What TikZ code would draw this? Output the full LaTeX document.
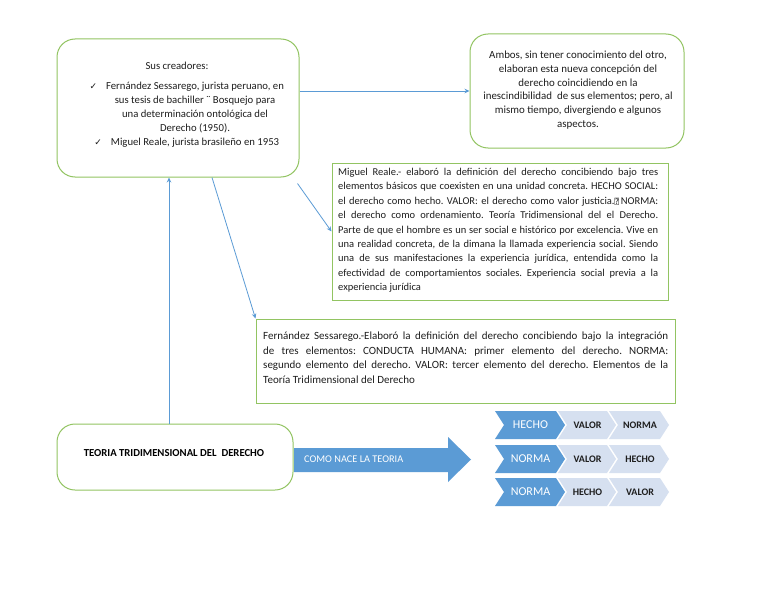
\documentclass[tikz,border=0pt]{standalone}
\usepackage{fontspec}
\setmainfont{Carlito}
\newfontfamily\symfont{DejaVu Sans}
\newfontfamily\symmono{DejaVu Sans Mono}
\usetikzlibrary{arrows.meta,calc}
\definecolor{boxgreen}{RGB}{146,196,98}
\definecolor{linkblue}{RGB}{91,155,213}
\definecolor{lightchev}{RGB}{214,224,240}
\definecolor{txt}{RGB}{30,30,30}
\newcommand{\chk}{\llap{{\symfont\fontsize{9}{9}\selectfont ✓}\hspace{9pt}}}
\frenchspacing
\begin{document}
\begin{tikzpicture}[x=1pt,y=-1pt,
  roundbox/.style={draw=boxgreen, line width=1pt, rounded corners=18pt, inner sep=0pt},
  sqbox/.style={draw=boxgreen, line width=1pt, inner sep=0pt},
  conn/.style={draw=linkblue, line width=0.8pt, -{Stealth[length=5pt,width=4.5pt]}},
  body/.style={font=\fontsize{10.7}{14}\selectfont, text=txt, inner sep=0pt},
  para/.style={text=txt, inner sep=0pt, align=justify, anchor=north west},
  darktxt/.style={font=\fontsize{12}{13}\selectfont, text=white, inner sep=0pt},
  lighttxt/.style={font=\bfseries\fontsize{10}{11}\selectfont, text=txt, inner sep=0pt}
]
\useasboundingbox[fill=white] (0,0) rectangle (768,594);

% boxes
\node[roundbox, minimum width=242pt, minimum height=138pt] (creadores) at (178,108) {};
\node[roundbox, minimum width=214pt, minimum height=114pt] (ambos) at (577,91) {};
\node[sqbox, minimum width=336pt, minimum height=137pt] (reale) at (500,231.5) {};
\node[sqbox, minimum width=419pt, minimum height=84pt] (sessarego) at (465.5,361) {};
\node[roundbox, minimum width=236pt, minimum height=66pt] (teoria) at (175,457) {};

% texts
\node[body] (t-sus) at (177,66) {Sus creadores:};
\node[body, align=center] (t-list) at (195,115) {\chk Fernández Sessarego, jurista peruano, en\\
sus tesis de bachiller ¨ Bosquejo para\\
una determinación ontológica del\\
Derecho (1950).\\
\chk Miguel Reale, jurista brasileño en 1953};

\node[body, align=center, font=\fontsize{10.9}{13.8}\selectfont] (t-ambos) at (578,90) {Ambos, sin tener conocimiento del otro,\\
elaboran esta nueva concepción del\\
derecho coincidiendo en la\\
inescindibilidad\ \ de sus elementos; pero, al\\
mismo tiempo, divergiendo e algunos\\
aspectos.};

\node[para, text width=320pt, font=\fontsize{10.5}{14.4}\selectfont] (t-reale) at (338,168) {\hyphenpenalty=10000 Miguel Reale.- elaboró la definición del derecho concibiendo bajo tres\linebreak
elementos básicos que coexisten en una unidad concreta. HECHO SOCIAL:\linebreak
el derecho como hecho. VALOR: el derecho como valor justicia.{\symmono\fontsize{7.5}{7.5}\selectfont ⍰}\,NORMA:\linebreak
el derecho como ordenamiento. Teoría Tridimensional del el Derecho.\linebreak
Parte de que el hombre es un ser social e histórico por excelencia. Vive en\linebreak
una realidad concreta, de la dimana la llamada experiencia social. Siendo\linebreak
una de sus manifestaciones la experiencia jurídica, entendida como la\linebreak
efectividad de comportamientos sociales. Experiencia social previa a la\linebreak
experiencia jurídica};

\node[para, text width=405pt, font=\fontsize{11}{14.4}\selectfont] (t-sessarego) at (263,332) {\hyphenpenalty=10000 Fernández Sessarego.-Elaboró la definición del derecho concibiendo bajo la integración\linebreak
de tres elementos: CONDUCTA HUMANA: primer elemento del derecho. NORMA:\linebreak
segundo elemento del derecho. VALOR: tercer elemento del derecho. Elementos de la\linebreak
Teoría Tridimensional del Derecho};

\node[font=\bfseries\fontsize{10.7}{12}\selectfont, text=black, inner sep=0pt] (t-teoria) at (174,453) {TEORIA TRIDIMENSIONAL DEL\ \ DERECHO};

% big arrow
\fill[linkblue] (294,448) -- (448,448) -- (448,437) -- (471,459.5) -- (448,482) -- (448,472) -- (294,472) -- cycle;
\node[font=\fontsize{10.3}{11}\selectfont, text=white, inner sep=0pt, anchor=west] (t-como) at (304,459.5) {COMO NACE LA TEORIA};

% chevrons
\foreach \r/\ya/\yb/\ta/\tb/\tc in {1/411/439/HECHO/VALOR/NORMA, 2/445/473/NORMA/VALOR/HECHO, 3/478/506/NORMA/HECHO/VALOR}{
  \pgfmathsetmacro\ym{(\ya+\yb)/2}
  \fill[linkblue] (495,\ya) -- (556,\ya) -- (565,\ym) -- (556,\yb) -- (495,\yb) -- (504,\ym) -- cycle;
  \fill[lightchev] (558,\ya) -- (607,\ya) -- (616,\ym) -- (607,\yb) -- (558,\yb) -- (567,\ym) -- cycle;
  \fill[lightchev] (609,\ya) -- (660,\ya) -- (669,\ym) -- (660,\yb) -- (609,\yb) -- (618,\ym) -- cycle;
  \node[darktxt] (c\r a) at (530.5,\ym) {\ta};
  \node[lighttxt] (c\r b) at (587.5,\ym) {\tb};
  \node[lighttxt] (c\r c) at (640,\ym) {\tc};
}

% connectors
\draw[conn] (creadores.east |- ambos.west) -- (ambos.west);
\draw[conn] ([xshift=-6pt]teoria.north) -- ([xshift=-6pt]teoria.north |- creadores.south);
\draw[conn] ([xshift=34pt]creadores.south) -- (sessarego.north west);
\draw[conn] ([shift={(-2pt,-6pt)}]creadores.south east) -- (reale.west);
\end{tikzpicture}
\end{document}
